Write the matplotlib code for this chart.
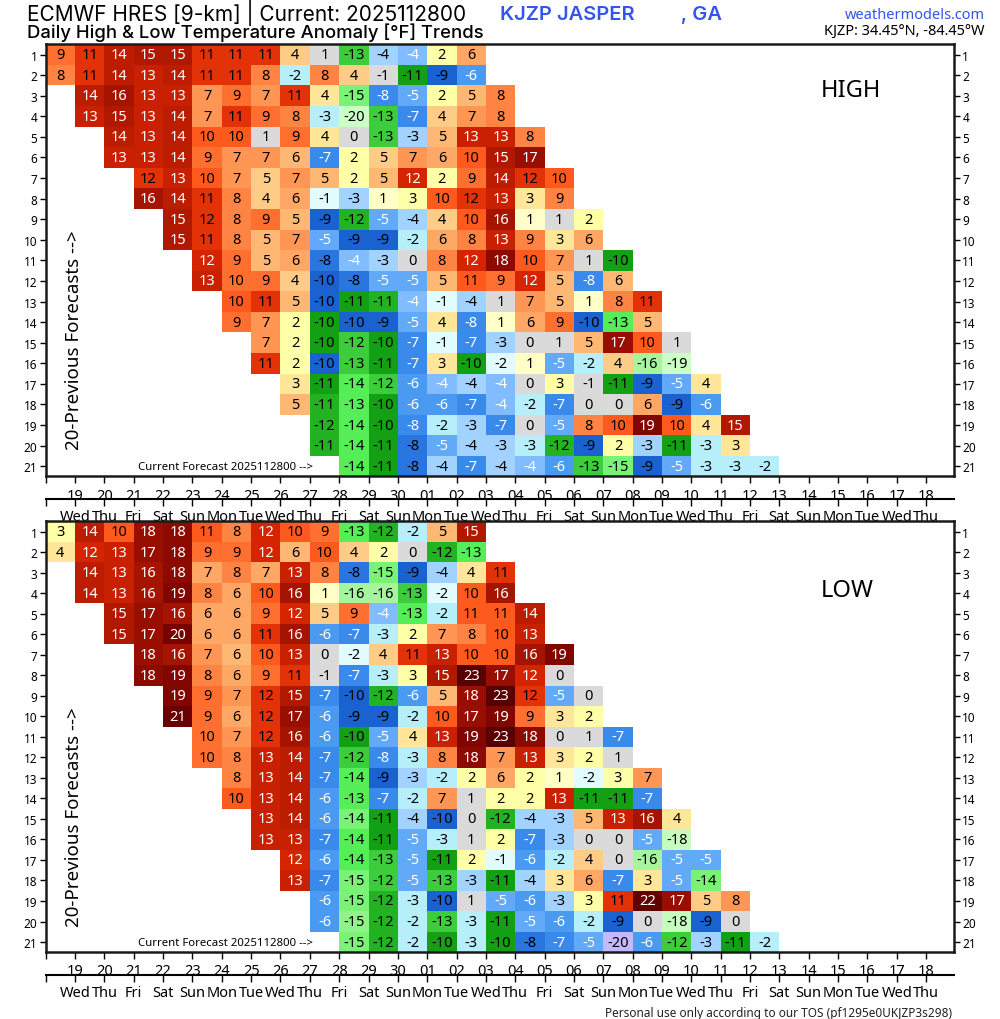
import numpy as np
import matplotlib
matplotlib.use("Agg")
import matplotlib.pyplot as plt
from matplotlib.colors import ListedColormap, BoundaryNorm

plt.rcParams['font.family'] = ['Noto Sans', 'DejaVu Sans']

# x axis: dates 19 Nov .. 18 Dec 2025
dates = ['19', '20', '21', '22', '23', '24', '25', '26', '27', '28', '29', '30',
         '01', '02', '03', '04', '05', '06', '07', '08', '09', '10', '11', '12',
         '13', '14', '15', '16', '17', '18']
days = ['Wed', 'Thu', 'Fri', 'Sat', 'Sun', 'Mon', 'Tue'] * 5
days = days[:30]
runs = list(range(1, 22))

# anomaly values [F], one row per forecast run (oldest first), 15 days each.
# fractional parts only reflect the colour class seen in the picture
high_rows = [
    [9, 11, 14, 15, 15, 11, 11, 11, 4, 0.7, -12.7, -3.7, -4, 2, 6],
    [8, 11, 14, 13, 14, 11, 11, 8, -2, 8, 4, -0.7, -10.7, -9, -6],
    [14, 16, 13, 13, 7, 9, 7, 11, 3.7, -14.7, -7.7, -5, 2, 5, 8],
    [13, 15, 13, 14, 7, 11, 9, 8, -2.7, -19.7, -12.7, -7, 4, 7, 8],
    [14, 13, 14, 10, 10, 0.7, 9, 3.7, 0, -12.7, -3, 5, 13, 13, 8],
    [13, 13, 14, 9, 7, 7, 5.7, -7, 2, 4.7, 7, 6, 10, 15, 17],
    [11.7, 13, 10, 7, 4.7, 7, 5, 2, 5, 12, 2, 9, 14, 11.7, 10],
    [16, 14, 11, 8, 4, 6, -1, -3, 1, 2.7, 10, 11.7, 13, 3, 8.7],
    [15, 11.7, 8, 9, 5, -9, -11.7, -5, -3.7, 4, 10, 16, 1, 0.7, 2],
    [15, 11, 8, 5, 7, -5, -9, -9, -2, 6, 8, 13, 8.7, 3, 6],
    [12, 9, 5, 6, -8, -4, -3, 0, 8, 12, 18, 10, 7, 0.7, -10],
    [13, 9.7, 9, 4, -9.7, -8, -5, -5, 5, 10.7, 9, 12, 5, -7.7, 5.7],
    [10, 11, 5, -9.7, -10.7, -11, -4, -1, -3.7, 0.7, 7, 5, 1, 8, 11],
    [9, 7, 2, -10, -9.7, -9, -5, 3.7, -7.7, 1, 6, 9, -9.7, -13, 5],
    [7, 2, -10, -12, -10, -7, -1, -7, -3, 0, 0.7, 5, 17, 10, 0.7],
    [11, 2, -9.7, -12.7, -10.7, -7, 3, -10, -1.7, 1, -5, -2, 4, -16, -19],
    [3, -10.7, -13.7, -12, -6, -4, -3.7, -4, 0, 2.7, -0.7, -10.7, -9, -5, 3.7],
    [5, -11, -13, -10, -6, -6, -7, -4, -2, -7, 0, 0, 6, -9, -6],
    [-11.7, -13.7, -10, -7.7, -2, -3, -7, 0, -5, 8, 10, 19, 10, 3.7, 15],
    [-11, -13.7, -10.7, -8, -5, -3.7, -3, -2.7, -11.7, -9, 2, -3, -10.7, -2.7, 3],
    [-13.7, -10.7, -8, -3.7, -7, -3.7, -4, -6, -12.7, -14.7, -9, -5, -2.7, -2.7, -2],
]

low_rows = [
    [2.7, 14, 10, 17.7, 18, 10.7, 8, 12, 10, 9, -13, -11.7, -2, 5, 15],
    [3.7, 12, 13, 17, 18, 9, 9, 12, 5.7, 10, 4, 2, 0, -11.7, -13],
    [14, 13, 16, 18, 6.7, 8, 6.7, 13, 8, -8, -14.7, -9, -3.7, 3.7, 11],
    [14, 13, 16, 19, 8, 6, 10, 16, 1, -16, -16, -12.7, -1.7, 10, 16],
    [15, 17, 16, 6, 6, 9, 12, 4.7, 9, -4, -13, -2, 10.7, 10.7, 14],
    [15, 17, 20, 6, 6, 11, 16, -6, -7, -2.7, 2, 7, 8, 10, 13],
    [17.7, 16, 7, 5.7, 10, 13, 0, -1.7, 4, 11, 13, 10, 10, 16, 19],
    [18, 19, 8, 6, 9, 11, -0.7, -7, -2.7, 2.7, 15, 23, 17, 12, 0],
    [19, 9, 7, 11.7, 15, -7, -9.7, -11.7, -6, 5, 17.7, 23, 11.7, -5, 0],
    [21, 9, 6, 11.7, 17, -6, -9, -9, -2, 10, 17, 19, 9, 3, 2],
    [9.7, 7, 11.7, 16, -6, -10, -5, 3.7, 13, 19, 23, 18, 0, 0.7, -7],
    [9.7, 8, 13, 14, -7, -12, -7.7, -2.7, 8, 18, 7, 13, 3, 2, 0.7],
    [8, 13, 14, -7, -13.7, -9, -3, -2, 2, 6, 2, 1, -1.7, 2.7, 7],
    [10, 13, 14, -6, -13, -7, -2, 7, 0.7, 2, 2, 13, -10.7, -10.7, -7],
    [13, 14, -6, -14, -10.7, -3.7, -9.7, 0, -11.7, -3.7, -3, 5, 13, 16, 3.7],
    [13, 13, -7, -13.7, -10.7, -5, -2.7, 0.7, 2, -7, -3, 0, 0, -5, -18],
    [12, -6, -13.7, -12.7, -5, -10.7, 2, -1, -6, -2, 4, 0, -16, -5, -5],
    [13, -7, -14.7, -12, -5, -12.7, -3, -10.7, -3.7, 3, 6, -7, 3, -5, -14],
    [-6, -14.7, -11.7, -2.7, -9.7, 0.7, -5, -6, -3, 2.7, 11, 22, 17, 4.7, 7.7],
    [-6, -15, -11.7, -2, -12.7, -2.7, -10.7, -5, -6, -2, -9, 0, -18, -9, 0],
    [-14.7, -11.7, -2, -10, -2.7, -10, -8, -7, -5, -20, -6, -12, -3, -10.7, -2],
]

# colour per whole-degree class (value truncated toward zero), -20 .. 23
class_colors = [
    '#c4b8ff', '#ccffc6', '#c6fcbe', '#b8f8b0', '#a6f49e', '#92f28a', '#7af276',
    '#56ee56', '#3ccc3c', '#22b222', '#14a014',
    '#1a62d0', '#2a76e0', '#3a8aec', '#4a9af2', '#62aaf8', '#80bcff', '#a2d2ff',
    '#b6eefa', '#e2fcfe',
    '#dadada',
    '#ffffc8', '#ffffa8', '#ffe698', '#ffcc88', '#ffb874', '#ffa866', '#ff9654',
    '#ff8444', '#ff7030', '#ff5a1e', '#e43208', '#d42400', '#c82000', '#bc1c00',
    '#b01800', '#a41400', '#980e00', '#8c0a00', '#820600', '#780200', '#6c0000',
    '#620000', '#580000',
]
cmap = ListedColormap(class_colors)
norm = BoundaryNorm(np.arange(-20.5, 24.5, 1), cmap.N)

head_font = ['Inter', 'Noto Sans', 'DejaVu Sans']


def draw_panel(ax, rows, title, title_y):
    grid = np.full((21, 31), np.nan)
    for i, row in enumerate(rows):
        s = i // 2
        grid[i, s:s + len(row)] = row
    cls = np.clip(np.fix(grid), -20, 23)
    ax.pcolormesh(np.arange(0, 32), np.arange(0.5, 22.5), np.ma.masked_invalid(cls),
                  cmap=cmap, norm=norm, shading='flat', edgecolors='none',
                  antialiased=False)
    for i in range(21):
        for j in range(31):
            v = grid[i, j]
            if np.isnan(v):
                continue
            c = cls[i, j]
            shown = int(np.sign(v) * np.floor(abs(v) + 0.5))
            white = (c >= 12) or (-7 <= c <= -4)
            ax.text(j + 0.5, i + 1, str(shown), ha='center', va='center',
                    fontsize=10.5, color='white' if white else 'black')

    ax.set_xlim(0, 30.95)
    ax.set_ylim(21.5, 0.5)
    ax.set_yticks(runs)
    ax.set_yticklabels([str(r) for r in runs])
    ax.tick_params(axis='y', left=True, right=True, labelleft=True, labelright=True,
                   length=4, width=1, labelsize=8.5, pad=2)
    ax.set_xticks(range(0, 31))
    ax.set_xticklabels([''] + dates)
    ax.tick_params(axis='x', length=5, width=1, labelsize=10.5, pad=3)
    for sp in ax.spines.values():
        sp.set_linewidth(1.8)
        sp.set_color('#1a1a1a')

    sec = ax.secondary_xaxis(-0.053)
    sec.set_xticks(range(0, 31))
    sec.set_xticklabels([''] + days)
    sec.tick_params(length=5, width=1, labelsize=10.5, pad=2)
    sec.spines['bottom'].set_linewidth(1.5)

    ax.text(0.95, 14.85, '20-Previous Forecasts -->', rotation=90, ha='center',
            va='center', fontsize=13.5)
    ax.text(9.1, 21, 'Current Forecast 2025112800 -->', ha='right', va='center',
            fontsize=8.2)
    ax.text(26.4, title_y, title, ha='left', va='center', fontsize=17)


fig = plt.figure(figsize=(10, 10.2), dpi=100)
ax_hi = fig.add_axes([0.0457, 0.5319, 0.9083, 0.4237])
ax_lo = fig.add_axes([0.0457, 0.0654, 0.9083, 0.4225])
draw_panel(ax_hi, high_rows, 'HIGH', 2.7)
draw_panel(ax_lo, low_rows, 'LOW', 3.85)

fig.text(0.027, 1 - 20.5 / 1020, 'ECMWF HRES [9-km] | Current: 2025112800',
         fontsize=15, family=head_font, va='baseline', ha='left')
fig.text(0.027, 1 - 37.5 / 1020, 'Daily High & Low Temperature Anomaly [\u00b0F] Trends',
         fontsize=13.3, family=head_font, fontweight='medium',
         va='baseline', ha='left')
fig.text(0.500, 1 - 20 / 1020, 'KJZP JASPER         , GA', fontsize=14.5,
         family=head_font, fontweight='semibold', color='#3355ee',
         va='baseline', ha='left')
fig.text(0.985, 1 - 19 / 1020, 'weathermodels.com', fontsize=10.5,
         fontweight='semibold', color='#3355ee', va='baseline', ha='right')
fig.text(0.985, 1 - 36 / 1020, 'KJZP: 34.45\u00b0N, -84.45\u00b0W', fontsize=10.5,
         va='baseline', ha='right')
fig.text(0.952, 1 - 1017 / 1020,
         'Personal use only according to our TOS (pf1295e0UKJZP3s298)',
         fontsize=8.5, color='#222222', va='baseline', ha='right')

fig.savefig('out.png', dpi=100)
